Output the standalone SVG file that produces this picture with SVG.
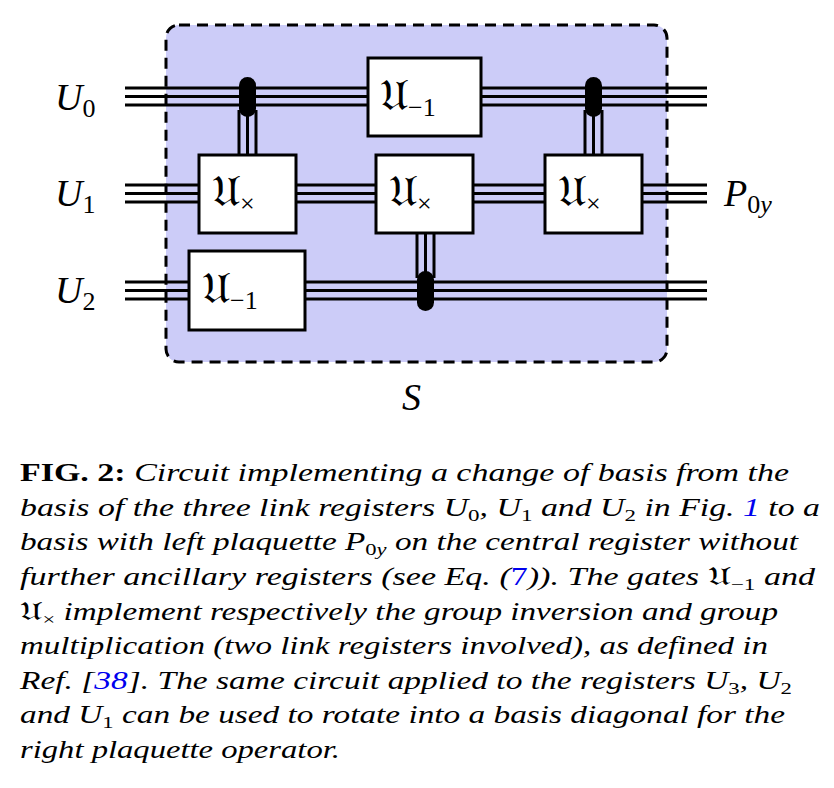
<svg xmlns="http://www.w3.org/2000/svg" width="834" height="788" viewBox="0 0 834 788">
<style>
.w{stroke:#000;stroke-width:3;fill:none}
.g{fill:#fff;stroke:#000;stroke-width:3}
.lab{font-family:"Liberation Serif","Times New Roman",Times,serif;font-style:italic;font-size:38px}
.sub{font-style:normal;font-size:26px}
.fr{font-family:"DejaVu Serif","DejaVu Sans",serif;font-size:44px}
.fs{font-family:"Liberation Serif","Times New Roman",serif;font-size:26px}
.cap{font-family:"Liberation Serif","Times New Roman",Times,serif;font-style:italic;font-size:25px}
.pill{fill:#000}
</style>
<rect x="166" y="25" width="501" height="337" rx="13" fill="#ccccf8" stroke="#000" stroke-width="3" stroke-dasharray="11,7"/>
<g id="connectors">
<path class="w" d="M125 88H707M125 96.5H707M125 105H707"/>
<path class="w" d="M125 185H707M125 193.5H707M125 202H707"/>
<path class="w" d="M125 282H707M125 290.5H707M125 299H707"/>
<path class="w" d="M239 110V155M247.5 110V155M256 110V155"/>
<path class="w" d="M585 110V155M593.5 110V155M602 110V155"/>
<path class="w" d="M417 233V278M425.5 233V278M434 233V278"/>
<rect class="pill" x="239" y="77" width="17" height="40" rx="8.5"/>
<rect class="pill" x="585" y="77" width="17" height="40" rx="8.5"/>
<rect class="pill" x="417" y="271" width="17" height="40" rx="8.5"/>
</g>
<g id="g1"><rect class="g" x="368" y="58" width="113" height="78"/><text x="380" y="110" class="fr">𝔘<tspan class="fs" dy="6">−1</tspan></text></g>
<g id="g2"><rect class="g" x="199" y="155" width="97" height="78"/><text x="212" y="206" class="fr">𝔘<tspan class="fs" dy="6">×</tspan></text></g>
<g id="g3"><rect class="g" x="376" y="155" width="97" height="78"/><text x="389" y="206" class="fr">𝔘<tspan class="fs" dy="6">×</tspan></text></g>
<g id="g4"><rect class="g" x="545" y="155" width="97" height="78"/><text x="558" y="206" class="fr">𝔘<tspan class="fs" dy="6">×</tspan></text></g>
<g id="g5"><rect class="g" x="189" y="251" width="116" height="79"/><text x="202" y="303" class="fr">𝔘<tspan class="fs" dy="6">−1</tspan></text></g>
<g id="labels">
<text x="55" y="110" class="lab">U<tspan class="sub" dy="7">0</tspan></text>
<text x="55" y="206" class="lab">U<tspan class="sub" dy="7">1</tspan></text>
<text x="55" y="303" class="lab">U<tspan class="sub" dy="7">2</tspan></text>
<text x="724" y="206" class="lab">P<tspan class="sub" dy="7">0<tspan font-style="italic">y</tspan></tspan></text>
<text x="402" y="410" class="lab">S</text>
</g>
<g id="caption" class="cap">
<text x="20" y="481" textLength="769" lengthAdjust="spacingAndGlyphs"><tspan font-weight="bold" font-style="normal">FIG. 2:</tspan> Circuit implementing a change of basis from the</text>
<text x="20" y="516" textLength="800" lengthAdjust="spacingAndGlyphs">basis of the three link registers U<tspan font-size="17" font-style="normal" dy="5">0</tspan><tspan dy="-5">, U</tspan><tspan font-size="17" font-style="normal" dy="5">1</tspan><tspan dy="-5"> and U</tspan><tspan font-size="17" font-style="normal" dy="5">2</tspan><tspan dy="-5"> in Fig. </tspan><tspan fill="#0000ee">1</tspan> to a</text>
<text x="20" y="550" textLength="778" lengthAdjust="spacingAndGlyphs">basis with left plaquette P<tspan font-size="17" dy="5"><tspan font-style="normal">0</tspan>y</tspan><tspan dy="-5"> on the central register without</tspan></text>
<text x="20" y="585" textLength="795" lengthAdjust="spacingAndGlyphs">further ancillary registers (see Eq. (<tspan fill="#0000ee" font-style="normal">7</tspan>)). The gates <tspan font-family="DejaVu Serif" font-size="26" font-style="normal">𝔘</tspan><tspan font-size="17" font-style="normal" dy="5">−1</tspan><tspan dy="-5"> and</tspan></text>
<text x="20" y="620" textLength="758" lengthAdjust="spacingAndGlyphs"><tspan font-family="DejaVu Serif" font-size="26" font-style="normal">𝔘</tspan><tspan font-size="17" font-style="normal" dy="5">×</tspan><tspan dy="-5"> implement respectively the group inversion and group</tspan></text>
<text x="20" y="654" textLength="748" lengthAdjust="spacingAndGlyphs">multiplication (two link registers involved), as defined in</text>
<text x="20" y="689" textLength="772" lengthAdjust="spacingAndGlyphs">Ref. [<tspan fill="#0000ee">38</tspan>]. The same circuit applied to the registers U<tspan font-size="17" font-style="normal" dy="5">3</tspan><tspan dy="-5">, U</tspan><tspan font-size="17" font-style="normal" dy="5">2</tspan></text>
<text x="20" y="723" textLength="765" lengthAdjust="spacingAndGlyphs">and U<tspan font-size="17" font-style="normal" dy="5">1</tspan><tspan dy="-5"> can be used to rotate into a basis diagonal for the</tspan></text>
<text x="20" y="758" textLength="320" lengthAdjust="spacingAndGlyphs">right plaquette operator.</text>
</g>
</svg>
